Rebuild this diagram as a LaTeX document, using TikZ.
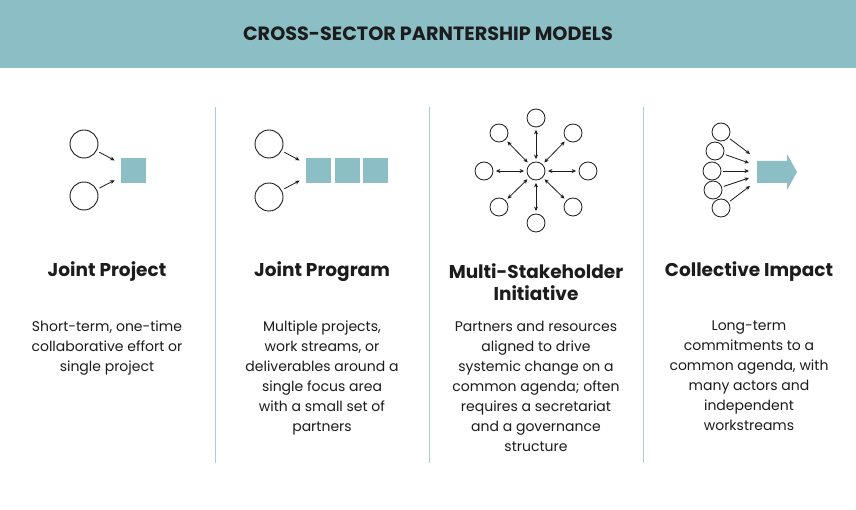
\documentclass[tikz,border=0pt]{standalone}
\usepackage{fontspec}
\setmainfont{Poppins}
\usetikzlibrary{arrows.meta}
\definecolor{teal}{HTML}{8BBEC5}
\definecolor{divider}{HTML}{A9CFD4}
\definecolor{ink}{HTML}{1C1C1C}
\begin{document}
\begin{tikzpicture}[x=1pt,y=-1pt,
  bigc/.style={circle,draw=ink,line width=0.9pt,minimum size=28pt,inner sep=0pt},
  smc/.style={circle,draw=ink,line width=0.8pt,minimum size=18pt,inner sep=0pt},
  box/.style={fill=teal,minimum size=25pt,inner sep=0pt},
  arr/.style={draw=ink,line width=0.8pt,-{Stealth[length=4.5pt,width=4pt]}},
  darr/.style={draw=ink,line width=0.8pt,{Stealth[length=4.5pt,width=4pt]}-{Stealth[length=4.5pt,width=4pt]},shorten <=2.5pt,shorten >=2.5pt},
  ttl/.style={font=\fontsize{18.5}{22}\selectfont\bfseries,text=ink,align=center,inner sep=0pt},
  body/.style={font=\fontsize{14}{20}\selectfont,text=ink,align=center,inner sep=0pt,anchor=north},
  divl/.style={draw=divider,line width=1pt}]
\useasboundingbox (0,0) rectangle (856,510);
\fill[white] (0,0) rectangle (856,510);
% header
\fill[teal] (0,0) rectangle (856,68);
\node[font=\fontsize{19.2}{22}\selectfont\bfseries,text=ink,inner sep=0pt] (header) at (428,34) {CROSS-SECTOR PARNTERSHIP MODELS};
% dividers
\coordinate (d1a) at (215,107); \coordinate (d1b) at (215,463);
\coordinate (d2a) at (429,107); \coordinate (d2b) at (429,463);
\coordinate (d3a) at (643,107); \coordinate (d3b) at (643,463);
\draw[divl] (d1a) -- (d1b);
\draw[divl] (d2a) -- (d2b);
\draw[divl] (d3a) -- (d3b);
% icon 1
\node[bigc] (p1) at (84,144) {};
\node[bigc] (p2) at (84,196) {};
\node[box] (s1) at (133.5,170.5) {};
\draw[arr,shorten <=3pt,shorten >=7pt] (p1) -- (s1);
\draw[arr,shorten <=3pt,shorten >=7pt] (p2) -- (s1);
% icon 2
\node[bigc] (q1) at (269,144) {};
\node[bigc] (q2) at (269,197) {};
\node[box] (t1) at (318.5,170.5) {};
\node[box] (t2) at (347,170.5) {};
\node[box] (t3) at (375.5,170.5) {};
\draw[arr,shorten <=3pt,shorten >=7pt] (q1) -- (t1);
\draw[arr,shorten <=3pt,shorten >=7pt] (q2) -- (t1);
% icon 3
\node[smc] (c) at (536,171) {};
\node[smc] (n) at (536,118) {};
\node[smc] (s) at (536,223) {};
\node[smc] (w) at (484,171) {};
\node[smc] (e) at (588,171) {};
\node[smc] (nw) at (499,133) {};
\node[smc] (ne) at (573,133) {};
\node[smc] (sw) at (499,207) {};
\node[smc] (se) at (573,207) {};
\foreach \o in {n,s,w,e,nw,ne,sw,se} \draw[darr] (c) -- (\o);
% icon 4
\node[smc] (a1) at (721,132) {};
\node[smc] (a2) at (715,151) {};
\node[smc] (a3) at (712,171) {};
\node[smc] (a4) at (713,190) {};
\node[smc] (a5) at (721,208) {};
\coordinate (e1) at (750,154);
\coordinate (e2) at (749,163);
\coordinate (e3) at (749,171);
\coordinate (e4) at (749,178);
\coordinate (e5) at (750,186);
\foreach \i in {1,...,5} \draw[arr,shorten <=2pt] (a\i) -- (e\i);
\fill[teal] (757,161) -- (787,161) -- (787,154) -- (797,172) -- (787,190) -- (787,183) -- (757,183) -- cycle;
% titles
\node[ttl] (h1) at (107,272) {Joint Project};
\node[ttl] (h2) at (322,272) {Joint Program};
\node[ttl] (h3) at (536,282) {Multi-Stakeholder\\Initiative};
\node[ttl] (h4) at (749,272) {Collective Impact};
% bodies
\node[body] (b1) at (107,321) {Short-term, one-time\\collaborative effort or\\single project};
\node[body] (b2) at (322,321) {Multiple projects,\\work streams, or\\deliverables around a\\single focus area\\with a small set of\\partners};
\node[body] (b3) at (536,321) {Partners and resources\\aligned to drive\\systemic change on a\\common agenda; often\\requires a secretariat\\and a governance\\structure};
\node[body] (b4) at (749,321) {Long-term\\commitments to a\\common agenda, with\\many actors and\\independent\\workstreams};
\end{tikzpicture}
\end{document}
